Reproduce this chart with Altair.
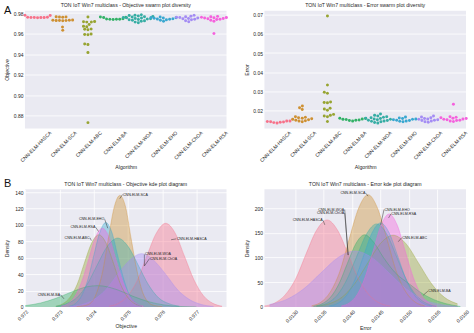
import altair as alt
import pandas as pd

ALGOS = ["CNN-ELM-HASCA", "CNN-ELM-SCA", "CNN-ELM-ABC", "CNN-ELM-BA",
         "CNN-ELM-WOA", "CNN-ELM-EHO", "CNN-ELM-ChOA", "CNN-ELM-RSA"]
COLORS = ["#f77189", "#ce9032", "#97a431", "#32b166",
          "#36ada4", "#39a7d0", "#a48cf4", "#f561dd"]

# ---------------- swarm data: objective ----------------
obj_hasca = [0.9778, 0.9776, 0.9760, 0.9759, 0.9758, 0.9757, 0.9757, 0.9756, 0.9755]
obj_sca = [0.9764, 0.9762, 0.9761, 0.9759, 0.9732, 0.9731, 0.9730, 0.9729, 0.9728, 0.9727, 0.9726,
           0.9664, 0.9632]
obj_abc = [0.9762, 0.9718, 0.9716, 0.9714, 0.9712, 0.9690, 0.9672, 0.9668, 0.9646, 0.9642, 0.9638,
           0.9597, 0.9592, 0.9588, 0.9500, 0.9494, 0.9416, 0.8733]
obj_ba = [0.9762, 0.9760, 0.9757, 0.9744, 0.9742, 0.9741, 0.9740, 0.9739, 0.9737]
obj_woa = [0.9785, 0.9780, 0.9776, 0.9772, 0.9768, 0.9765, 0.9762, 0.9758, 0.9755, 0.9752, 0.9748,
           0.9745, 0.9742, 0.9738, 0.9734, 0.9730, 0.9725, 0.9720, 0.9712, 0.9705]
obj_eho = [0.9762, 0.9758, 0.9755, 0.9752, 0.9749, 0.9746, 0.9743, 0.9740, 0.9736, 0.9730, 0.9720]
obj_choa = [0.9778, 0.9770, 0.9764, 0.9760, 0.9756, 0.9752, 0.9748, 0.9744, 0.9740, 0.9734, 0.9726, 0.9716]
obj_rsa = [0.9768, 0.9764, 0.9760, 0.9757, 0.9754, 0.9751, 0.9748, 0.9745, 0.9741, 0.9737, 0.9730,
           0.9720, 0.9600]

# ---------------- swarm data: error ----------------
err_hasca = [0.0146, 0.0145, 0.0143, 0.0142, 0.0140, 0.0139, 0.0137, 0.0135]
err_sca = [0.0224, 0.0215, 0.0205, 0.0168, 0.0165, 0.0162, 0.0160, 0.0157, 0.0155, 0.0152, 0.0150,
           0.0147, 0.0145, 0.0142]
err_abc = [0.0693, 0.0333, 0.0295, 0.0290, 0.0245, 0.0242, 0.0240, 0.0212, 0.0208, 0.0202, 0.0180,
           0.0176, 0.0172, 0.0168, 0.0143]
err_ba = [0.0160, 0.0158, 0.0156, 0.0155, 0.0153, 0.0151, 0.0150, 0.0148, 0.0146]
err_woa = [0.0182, 0.0176, 0.0172, 0.0168, 0.0165, 0.0162, 0.0160, 0.0158, 0.0156, 0.0154, 0.0152,
           0.0150, 0.0148, 0.0146, 0.0144, 0.0141, 0.0138, 0.0135]
err_eho = [0.0166, 0.0161, 0.0158, 0.0156, 0.0154, 0.0152, 0.0150, 0.0148, 0.0146, 0.0144, 0.0141]
err_choa = [0.0172, 0.0166, 0.0162, 0.0159, 0.0156, 0.0154, 0.0152, 0.0150, 0.0148, 0.0145, 0.0142, 0.0139]
err_rsa = [0.0233, 0.0168, 0.0165, 0.0162, 0.0160, 0.0158, 0.0156, 0.0154, 0.0152, 0.0150, 0.0148,
           0.0146, 0.0143]

# ---------------- KDE curves: objective ----------------
kobj_x_hasca = [0.97445, 0.97473, 0.97500, 0.97528, 0.97555, 0.97583, 0.97610, 0.97638, 0.97665, 0.97693, 0.97720, 0.97748, 0.97775]
kobj_y_hasca = [1, 4.5, 14, 33, 62, 90, 102, 90, 62, 33, 14, 4.5, 1]
kobj_x_sca = [0.97350, 0.97377, 0.97394, 0.97410, 0.97427, 0.97443, 0.97460, 0.97476, 0.97493, 0.97509, 0.97526, 0.97542, 0.97559, 0.97575, 0.97600]
kobj_y_sca = [0.5, 2, 6, 19, 45, 84, 122, 136, 122, 84, 45, 19, 6, 2, 0.5]
kobj_x_abc = [0.97289, 0.97310, 0.97331, 0.97352, 0.97373, 0.97394, 0.97415, 0.97436, 0.97457, 0.97478, 0.97499, 0.97520, 0.97541]
kobj_y_abc = [1, 4, 12, 28, 54, 78, 88, 78, 54, 28, 12, 4, 1]
kobj_x_ba = [0.97200, 0.97245, 0.97290, 0.97335, 0.97380, 0.97410, 0.97425, 0.97470, 0.97515, 0.97560, 0.97605, 0.97650, 0.97700]
kobj_y_ba = [1.7, 4.9, 10.7, 18.3, 24.6, 26, 25.6, 20.8, 13, 6.5, 2.5, 0.7, 0.1]
kobj_x_woa = [0.9729, 0.9732, 0.9735, 0.9738, 0.9741, 0.9744, 0.9747, 0.9750, 0.9753, 0.9756, 0.9759, 0.9762, 0.9765]
kobj_y_woa = [1, 4, 11, 27, 51, 74, 84, 74, 51, 27, 11, 4, 1]
kobj_x_eho = [0.97330, 0.97348, 0.97365, 0.97383, 0.97400, 0.97418, 0.97435, 0.97453, 0.97470, 0.97488, 0.97505, 0.97523, 0.97540]
kobj_y_eho = [1.1, 4.5, 14, 33.5, 62.5, 91, 103, 91, 62.5, 33.5, 14, 4.5, 1.1]
kobj_x_choa = [0.97330, 0.97365, 0.97400, 0.97435, 0.97470, 0.97505, 0.97540, 0.97575, 0.97610, 0.97645, 0.97680, 0.97715, 0.97750]
kobj_y_choa = [0.7, 3, 9, 21, 40, 57, 65, 57, 40, 21, 9, 3, 0.7]
kobj_x_rsa = [0.97305, 0.97325, 0.97345, 0.97365, 0.97385, 0.97405, 0.97425, 0.97445, 0.97465, 0.97485, 0.97505, 0.97525, 0.97545]
kobj_y_rsa = [1.1, 4.2, 13, 31, 58, 85, 96, 85, 58, 31, 13, 4.2, 1.1]

# ---------------- KDE curves: error ----------------
kerr_x_hasca = [0.01245, 0.012635, 0.01282, 0.013005, 0.01319, 0.013375, 0.01356, 0.013745, 0.01393, 0.014115, 0.0143, 0.014485, 0.01467]
kerr_y_hasca = [2, 7.7, 24, 56, 107, 155, 176, 155, 107, 56, 24, 7.7, 2]
kerr_x_sca = [0.01329, 0.013455, 0.01362, 0.013785, 0.01395, 0.014115, 0.01428, 0.014445, 0.01461, 0.014775, 0.01494, 0.015105, 0.01527]
kerr_y_sca = [2.5, 10, 31, 72, 138, 200, 227, 200, 138, 72, 31, 10, 2.5]
kerr_x_abc = [0.01337, 0.013595, 0.01382, 0.014045, 0.01427, 0.014495, 0.01472, 0.014945, 0.01517, 0.015395, 0.01562, 0.01585]
kerr_y_abc = [1.6, 6.4, 19.6, 47, 88, 128, 145, 128, 88, 47, 19.6, 6.4]
kerr_x_ba = [0.01332, 0.01347, 0.01362, 0.01377, 0.01392, 0.01407, 0.01422, 0.01437, 0.01455, 0.01475, 0.01500, 0.01525, 0.01550, 0.01575, 0.01590]
kerr_y_ba = [1.6, 6.4, 19.7, 47, 89, 129, 146, 132, 100, 70, 47, 26, 12, 4, 1]
kerr_x_woa = [0.01338, 0.013555, 0.01373, 0.013905, 0.01408, 0.014255, 0.01443, 0.014605, 0.01478, 0.014955, 0.01513, 0.015305, 0.01548]
kerr_y_woa = [1.8, 7.4, 22.7, 54.6, 102, 148, 168, 148, 102, 54.6, 22.7, 7.4, 1.8]
kerr_x_eho = [0.0136, 0.01375, 0.0139, 0.01405, 0.0142, 0.01435, 0.0145, 0.01465, 0.0148, 0.01495, 0.0151, 0.01525, 0.0154]
kerr_y_eho = [1.9, 7.5, 23, 55, 103, 150, 170, 150, 103, 55, 23, 7.5, 1.9]
kerr_x_choa = [0.01255, 0.01285, 0.01315, 0.01345, 0.01375, 0.01405, 0.01435, 0.01465, 0.01495, 0.01525, 0.01555, 0.01585]
kerr_y_choa = [5, 15.3, 36.7, 68.6, 99.7, 113, 99.7, 68.6, 36.7, 15.3, 5, 1.2]
kerr_x_rsa = [0.01381, 0.01395, 0.01409, 0.01423, 0.01437, 0.01451, 0.01465, 0.01479, 0.01493, 0.01507, 0.01521, 0.01535, 0.01549]
kerr_y_rsa = [2.1, 8.3, 25.4, 61, 114, 166, 188, 166, 114, 61, 25.4, 8.3, 2.1]

# ---------------- annotations (label, text x, text y, align, target x, target y) ----------------
ann_obj = [
    ("CNN-ELM-SCA", 0.97484, 137, "left", 0.97476, 132),
    ("CNN-ELM-EHO", 0.97432, 107, "right", 0.97441, 96),
    ("CNN-ELM-RSA", 0.97406, 97, "right", 0.97414, 92),
    ("CNN-ELM-ABC", 0.97389, 84.5, "right", 0.97393, 81),
    ("CNN-ELM-HASCA", 0.97641, 83, "left", 0.97626, 82),
    ("CNN-ELM-WOA", 0.97548, 64, "left", 0.97548, 50),
    ("CNN-ELM-ChOA", 0.97563, 59, "left", 0.97548, 50),
    ("CNN-ELM-BA", 0.97303, 15, "right", 0.97313, 10),
]
ann_err = [
    ("CNN-ELM-SCA", 0.01424, 230, "right", 0.01428, 224),
    ("CNN-ELM-WOA", 0.01387, 197, "right", 0.01393, 105),
    ("CNN-ELM-ChOA", 0.01387, 190, "right", 0.01393, 105),
    ("CNN-ELM-HASCA", 0.01349, 175, "right", 0.01352, 166),
    ("CNN-ELM-EHO", 0.01456, 197, "left", 0.01450, 166),
    ("CNN-ELM-RSA", 0.01468, 188, "left", 0.01464, 180),
    ("CNN-ELM-ABC", 0.01487, 140, "left", 0.01481, 132),
    ("CNN-ELM-BA", 0.01533, 32, "left", 0.01525, 24),
]

FONT = "Liberation Sans"
W, H = 202, 118
OBJ_DOM = [0.8677, 0.9824]
ERR_DOM = [0.0107, 0.0721]
DOT_D = 3.3


def swarm_offsets(vals, ppu, d):
    ys = [v * ppu for v in vals]
    idx = sorted(range(len(vals)), key=lambda i: ys[i])
    placed = []
    out = [0.0] * len(vals)
    for i in idx:
        y = ys[i]
        near = [(px, py) for px, py in placed if abs(py - y) < d]
        cands = [0.0]
        for px, py in near:
            dx = (d * d - (py - y) ** 2) ** 0.5
            cands += [px + dx, px - dx]
        cands.sort(key=lambda c: (abs(c), c))
        for c in cands:
            if all((c - px) ** 2 + (y - py) ** 2 >= d * d - 1e-6 for px, py in near):
                out[i] = c
                placed.append((c, y))
                break
    return out


def swarm_frame(groups, dom):
    ppu = H / (dom[1] - dom[0])
    band = W / 8.0
    rows = []
    for gi, vals in enumerate(groups):
        offs = swarm_offsets(vals, ppu, DOT_D)
        for v, o in zip(vals, offs):
            rows.append({"algo": ALGOS[gi], "val": v, "xpos": gi + o / band})
    return pd.DataFrame(rows)


color_enc = alt.Color("algo:N", scale=alt.Scale(domain=ALGOS, range=COLORS), legend=None)
label_expr = "[" + ",".join("'%s'" % a for a in ALGOS) + "][round(datum.value)]"


def deco_layers(title, letter, letter_y):
    # panel title and panel letter as text marks placed relative to the plot area
    out = [alt.Chart(pd.DataFrame({"t": [title]})).mark_text(
        fontSize=5.2, align="center", baseline="bottom", font=FONT, color="#262626").encode(
        x=alt.value(W / 2), y=alt.value(-2.5), text="t:N")]
    if letter:
        out.append(alt.Chart(pd.DataFrame({"t": [letter]})).mark_text(
            fontSize=11, align="left", baseline="top", font=FONT, color="#111").encode(
            x=alt.value(-21), y=alt.value(letter_y), text="t:N"))
    return out


def swarm_chart(df, dom, yticks, ytitle, title, letter=None):
    pts = alt.Chart(df).mark_circle(size=9, opacity=1).encode(
        x=alt.X("xpos:Q", scale=alt.Scale(domain=[-0.5, 7.5], nice=False, zero=False),
                axis=alt.Axis(values=list(range(8)), labelExpr=label_expr, grid=False,
                              labelAngle=-45, labelAlign="right", labelBaseline="top",
                              labelOffset=11, labelOverlap=False, labelFlush=False,
                              labelPadding=1.5, title="Algorithm")),
        y=alt.Y("val:Q", scale=alt.Scale(domain=dom, nice=False, zero=False),
                axis=alt.Axis(values=yticks, format=".2f", title=ytitle)),
        color=color_enc,
    )
    return alt.layer(pts, *deco_layers(title, letter, -6)).properties(width=W, height=H)


def kde_frame(curves):
    rows = []
    for gi, (xs, ys) in enumerate(curves):
        for a, b in zip(xs, ys):
            rows.append({"algo": ALGOS[gi], "x": a, "y": b})
    return pd.DataFrame(rows)


def kde_chart(curves, ann, xdom, xticks, xfmt, xtitle, ydom, yticks, title, letter=None):
    df = kde_frame(curves)
    xs = alt.Scale(domain=xdom, nice=False, zero=False)
    ys = alt.Scale(domain=ydom, nice=False, zero=True)
    xax = alt.Axis(values=xticks, format=xfmt, labelAngle=-45, labelFlush=False,
                   labelOverlap=False, title=xtitle)
    yax = alt.Axis(values=yticks, format="d", title="Density")
    X = alt.X("x:Q", scale=xs, axis=xax)
    Y = alt.Y("y:Q", scale=ys, axis=yax, stack=None)
    area = alt.Chart(df).mark_area(interpolate="monotone", opacity=0.4, clip=True).encode(
        x=X, y=Y, color=color_enc)
    line = alt.Chart(df).mark_line(interpolate="monotone", strokeWidth=0.6, opacity=0.6, clip=True).encode(
        x=X, y=Y, color=color_enc)
    adf = pd.DataFrame([{"lab": a[0], "x": a[1], "y": a[2], "al": a[3], "x2": a[4], "y2": a[5]} for a in ann])
    rule = alt.Chart(adf).mark_rule(strokeWidth=0.5, color="#333").encode(
        x=X, y=Y, x2="x2:Q", y2="y2:Q")
    tl = alt.Chart(adf[adf["al"] == "left"]).mark_text(
        fontSize=3.6, align="left", baseline="middle", font=FONT, color="#222", dx=0.5).encode(
        x=X, y=Y, text="lab:N")
    tr = alt.Chart(adf[adf["al"] == "right"]).mark_text(
        fontSize=3.6, align="right", baseline="middle", font=FONT, color="#222", dx=-0.5).encode(
        x=X, y=Y, text="lab:N")
    return alt.layer(area, line, rule, tl, tr, *deco_layers(title, letter, -11.5)).properties(
        width=W, height=H)


obj_df = swarm_frame([obj_hasca, obj_sca, obj_abc, obj_ba, obj_woa, obj_eho, obj_choa, obj_rsa], OBJ_DOM)
err_df = swarm_frame([err_hasca, err_sca, err_abc, err_ba, err_woa, err_eho, err_choa, err_rsa], ERR_DOM)

tl_chart = swarm_chart(obj_df, OBJ_DOM, [0.88, 0.90, 0.92, 0.94, 0.96, 0.98], "Objective",
                       "TON IoT Win7 multiclass - Objective swarm plot diversity", "A")
tr_chart = swarm_chart(err_df, ERR_DOM, [0.02, 0.03, 0.04, 0.05, 0.06, 0.07], "Error",
                       "TON IoT Win7 multiclass - Error swarm plot diversity")

bl_chart = kde_chart(
    [(kobj_x_hasca, kobj_y_hasca), (kobj_x_sca, kobj_y_sca), (kobj_x_abc, kobj_y_abc), (kobj_x_ba, kobj_y_ba),
     (kobj_x_woa, kobj_y_woa), (kobj_x_eho, kobj_y_eho), (kobj_x_choa, kobj_y_choa), (kobj_x_rsa, kobj_y_rsa)],
    ann_obj, [0.97199, 0.97788], [0.972, 0.973, 0.974, 0.975, 0.976, 0.977], ".3f", "Objective",
    [0, 143.5], [0, 20, 40, 60, 80, 100, 120, 140],
    "TON IoT Win7 multiclass - Objective kde plot diagram", "B")
br_chart = kde_chart(
    [(kerr_x_hasca, kerr_y_hasca), (kerr_x_sca, kerr_y_sca), (kerr_x_abc, kerr_y_abc), (kerr_x_ba, kerr_y_ba),
     (kerr_x_woa, kerr_y_woa), (kerr_x_eho, kerr_y_eho), (kerr_x_choa, kerr_y_choa), (kerr_x_rsa, kerr_y_rsa)],
    ann_err, [0.01246, 0.01600], [0.0130, 0.0135, 0.0140, 0.0145, 0.0150, 0.0155, 0.0160], ".4f", "Error",
    [0, 238], [0, 50, 100, 150, 200],
    "TON IoT Win7 multiclass - Error kde plot diagram")

chart = alt.concat(
    tl_chart, tr_chart, bl_chart, br_chart, columns=2,
    spacing={"row": 61, "column": 38}, bounds="flush"
).properties(
    padding={"left": 4, "top": 2.3, "right": 4, "bottom": 0}
).configure_view(
    fill="#EAEAF2", stroke=None
).configure_axis(
    domain=False, ticks=False, gridColor="white", gridWidth=0.8,
    labelFont=FONT, labelFontSize=5, labelColor="#262626", labelPadding=2,
    titleFont=FONT, titleFontSize=5.2, titleFontWeight="normal", titleColor="#262626", titlePadding=2,
).configure_axisY(
    minExtent=13, maxExtent=13
)

chart.save("out.html", embed_options={"renderer": "svg", "actions": False})
